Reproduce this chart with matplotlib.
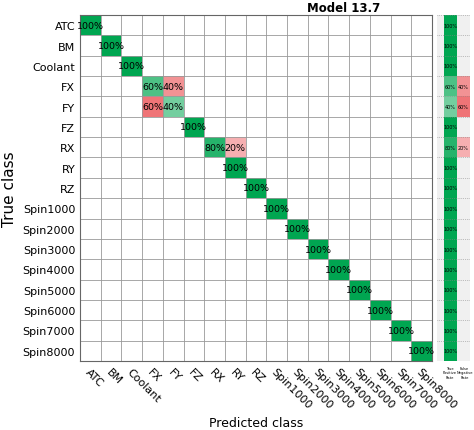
import numpy as np
import matplotlib.pyplot as plt
from matplotlib.colors import to_rgb

classes = ["ATC","BM","Coolant","FX","FY","FZ","RX","RY","RZ","Spin1000","Spin2000",
           "Spin3000","Spin4000","Spin5000","Spin6000","Spin7000","Spin8000"]
n = len(classes)
cm = np.zeros((n, n))
for i in range(n):
    cm[i, i] = 100
cm[3, 3], cm[3, 4] = 60, 40
cm[4, 3], cm[4, 4] = 60, 40
cm[6, 6], cm[6, 7] = 80, 20

W, H = 474, 431
fig = plt.figure(figsize=(W/100, H/100), dpi=100)
ax = fig.add_axes([80/W, (H-362)/H, (432-80)/W, (362-16)/H])
green = np.array(to_rgb("#00a651")); red = np.array(to_rgb("#e8383d"))
white = np.ones(3)
def col(v, base):
    a = 0.25 + 0.75*v/100
    return white*(1-a) + base*a
for i in range(n):
    for j in range(n):
        v = cm[i, j]
        if v > 0:
            c = col(v, green if i == j else red)
            ax.add_patch(plt.Rectangle((j, i), 1, 1, color=c, lw=0))
            ax.text(j+0.5, i+0.5, f"{int(v)}%", ha="center", va="center", fontsize=6.8)
for k in range(n+1):
    ax.axhline(k, color="#999999", lw=0.6)
    ax.axvline(k, color="#999999", lw=0.6)
ax.set_xlim(0, n); ax.set_ylim(n, 0)
ax.set_xticks(np.arange(n)+0.5)
ax.set_xticklabels(classes, rotation=-45, ha="left", rotation_mode="anchor", fontsize=8)
ax.set_yticks(np.arange(n)+0.5)
ax.set_yticklabels(classes, fontsize=8)
ax.tick_params(length=0)
ax.set_xlabel("Predicted class", fontsize=9)
ax.set_ylabel("True class", fontsize=11)
ax.set_title("Model 13.7", fontsize=8.5, fontweight="bold", pad=3)
ax.title.set_position((0.75, 1))
for s in ax.spines.values():
    s.set_color("#666666")

# row summary
tp = np.diag(cm)
fn = 100 - tp
sx = fig.add_axes([437/W, (H-362)/H, (470-437)/W, (362-16)/H])
sx.set_xlim(0, 2.4); sx.set_ylim(n, 0)
sx.add_patch(plt.Rectangle((0, 0), 2.4, n, color="#f0f0f0", lw=0))
for i in range(n):
    sx.add_patch(plt.Rectangle((0.5, i), 0.95, 1, color=col(tp[i], green), lw=0))
    sx.text(0.97, i+0.5, f"{int(tp[i])}%", ha="center", va="center", fontsize=3.5)
    if fn[i] > 0:
        sx.add_patch(plt.Rectangle((1.45, i), 0.95, 1, color=col(fn[i], red), lw=0))
        sx.text(1.92, i+0.5, f"{int(fn[i])}%", ha="center", va="center", fontsize=3.5)
    sx.axhline(i, color="#888888", lw=0.5, ls=":")
sx.axhline(n, color="#888888", lw=0.5, ls=":")
sx.set_xticks([0.9, 2.0])
sx.set_xticklabels(["True\nPositive\nRate", "False\nNegative\nRate"], fontsize=2.6)
sx.set_yticks([])
sx.tick_params(length=0)
for s in sx.spines.values():
    s.set_visible(False)
fig.savefig("out.png", dpi=100)
